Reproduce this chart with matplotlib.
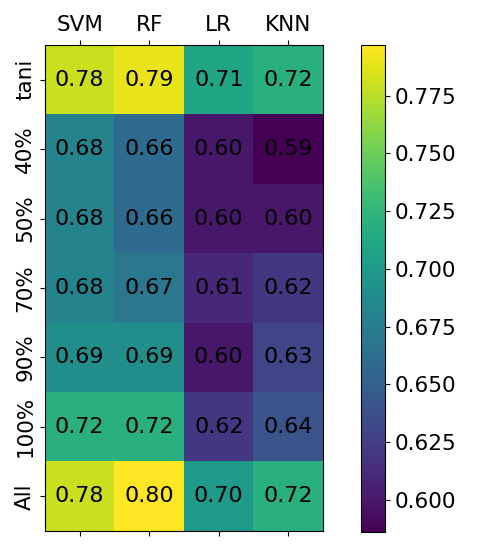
import numpy as np
import matplotlib
matplotlib.use("Agg")
import matplotlib.pyplot as plt

modelos = ["SVM", "RF", "LR", "KNN"]
linhas = ["tani", "40%", "50%", "70%", "90%", "100%", "All"]

svm = [0.78, 0.68, 0.68, 0.68, 0.69, 0.72, 0.78]
rf = [0.79, 0.66, 0.66, 0.67, 0.69, 0.72, 0.797]
lr = [0.71, 0.60, 0.60, 0.61, 0.60, 0.62, 0.70]
knn = [0.72, 0.586, 0.60, 0.62, 0.63, 0.64, 0.72]

matriz = np.array([svm, rf, lr, knn]).T

plt.rcParams["font.size"] = 15.5

fig = plt.figure(figsize=(4.78, 5.5), dpi=100)
ax = fig.add_axes([45 / 478, 19 / 550, 278 / 478, 486 / 550])
cax = fig.add_axes([361 / 478, 18 / 550, 24 / 478, 487 / 550])

im = ax.imshow(matriz, cmap="viridis", aspect="auto")

for i in range(len(linhas)):
    for j in range(len(modelos)):
        ax.text(j, i, f"{matriz[i, j]:.2f}", ha="center", va="center",
                color="black", fontsize=16)

ax.set_xticks(range(len(modelos)))
ax.set_xticklabels(modelos)
ax.set_yticks(range(len(linhas)))
ax.set_yticklabels(linhas, rotation=90, va="center")
ax.tick_params(axis="x", top=True, bottom=True, labeltop=True, labelbottom=False)

fig.colorbar(im, cax=cax)

fig.savefig("out.png", dpi=100)
